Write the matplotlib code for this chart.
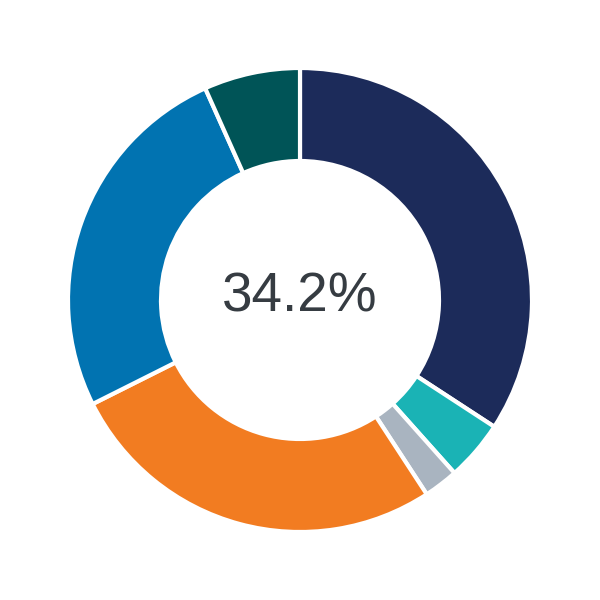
import matplotlib.pyplot as plt

# slices, clockwise from 12 o'clock
labels = ["Navy", "Teal", "Gray", "Orange", "Blue", "Green"]
shares = [34.2, 4.2, 2.4, 26.8, 25.7, 6.7]
colors = ["#1c2b5a", "#1ab3b5", "#a9b4c0", "#f27c21", "#0173b1", "#005457"]
center_label = "34.2%"

fig = plt.figure(figsize=(6, 6), dpi=100)
ax = fig.add_axes([0, 0, 1, 1])
ax.pie(shares, colors=colors, startangle=90, counterclock=False,
       radius=232 / 300,
       wedgeprops=dict(width=93 / 300, edgecolor="white", linewidth=3))
ax.text(0, 0.01, center_label, ha="center", va="center", fontsize=39.5,
        color="#363c42", family=["Liberation Sans", "DejaVu Sans"])
ax.set_xlim(-1, 1)
ax.set_ylim(-1, 1)
ax.set_aspect("equal")
ax.axis("off")
fig.savefig("out.png", dpi=100, facecolor="white")
